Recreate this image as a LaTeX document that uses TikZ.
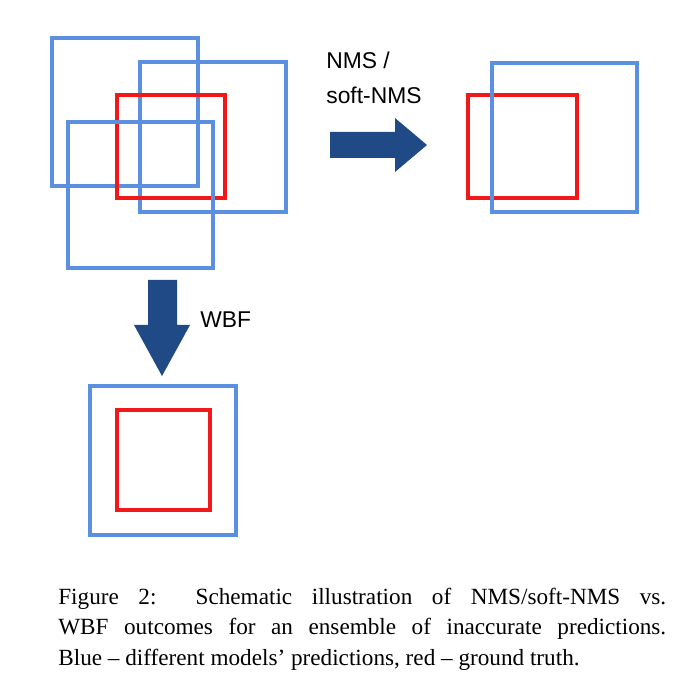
\documentclass[tikz,border=0pt]{standalone}
\usepackage{fontspec}
\setmainfont{Liberation Serif}
\newfontfamily\labelfont{Liberation Sans}
\definecolor{boxblue}{HTML}{5B8FE0}
\definecolor{boxred}{HTML}{F01818}
\definecolor{arrowblue}{HTML}{1F4A85}
\begin{document}
\begin{tikzpicture}[x=0.02cm, y=-0.02cm,
    pred/.style={draw=boxblue, line width=2.3pt},
    truth/.style={draw=boxred, line width=2.3pt},
    lbl/.style={font=\labelfont\fontsize{13}{16}\selectfont, anchor=west, inner sep=0pt},
  ]
  \useasboundingbox (0,0) rectangle (694,692);

  % ensemble of predictions
  \draw[pred] (52,38) rectangle (198,186);
  \draw[pred] (140,62) rectangle (286,212);
  \draw[truth] (117,95) rectangle (225,198);
  \draw[pred] (68,122) rectangle (213,268);

  % NMS / soft-NMS
  \fill[arrowblue] (330,132) -- (395,132) -- (395,118) -- (427,145) -- (395,172)
    -- (395,158) -- (330,158) -- cycle;
  \node[lbl] (nms) at (326,60) {NMS /};
  \node[lbl] (softnms) at (326,95) {soft-NMS};
  \draw[truth] (468,95) rectangle (577,198);
  \draw[pred] (492,63) rectangle (637,212);

  % WBF
  \fill[arrowblue] (148,280) -- (177,280) -- (177,325) -- (190,325) -- (162,376)
    -- (134,325) -- (148,325) -- cycle;
  \node[lbl] (wbf) at (200,320) {WBF};
  \draw[pred] (90,386) rectangle (236,535);
  \draw[truth] (117,410) rectangle (210,510);

  % caption
  \node[anchor=north west, inner sep=0pt, text width=12.16cm, align=justify,
    font=\fontsize{13.2}{17.2}\selectfont] (caption) at (58,588)
    {Figure 2:\ \ Schematic illustration of NMS/soft-NMS vs.\linebreak
     WBF outcomes for an ensemble of inaccurate predictions.\linebreak
     Blue -- different models' predictions, red -- ground truth.};
\end{tikzpicture}
\end{document}
